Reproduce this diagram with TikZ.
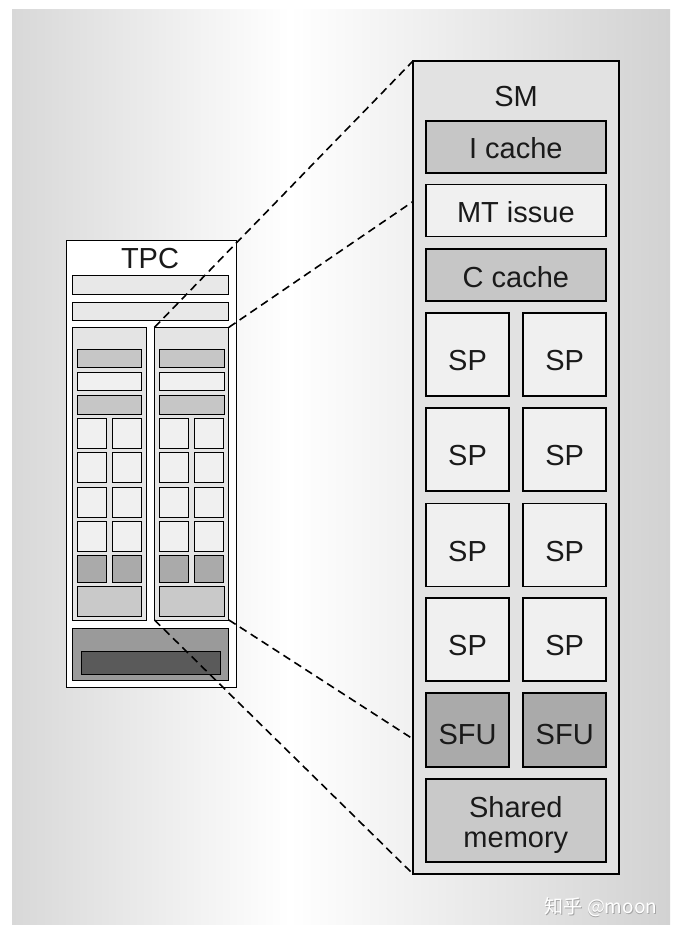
\documentclass[tikz,border=0pt]{standalone}
\usepackage{fontspec}
\setmainfont{Liberation Sans}
\newfontfamily\cjk{Noto Sans CJK SC}
\definecolor{bgL}{HTML}{D8D8D8}
\definecolor{bgR}{HTML}{D2D2D2}
\definecolor{smfill}{HTML}{E2E2E2}
\definecolor{cachec}{HTML}{C6C6C6}
\definecolor{spc}{HTML}{F0F0F0}
\definecolor{sfuc}{HTML}{AAAAAA}
\definecolor{shc}{HTML}{C9C9C9}
\definecolor{blockc}{HTML}{9A9A9A}
\definecolor{innerc}{HTML}{5A5A5A}
\definecolor{colcol}{HTML}{E4E4E4}
\definecolor{barc}{HTML}{E8E8E8}
\definecolor{txt}{HTML}{1A1A1A}
\begin{document}
\begin{tikzpicture}[x=1pt,y=-1pt,
  box/.style={draw=black, inner sep=0pt, outer sep=0pt, anchor=center, text=txt},
  bigbox/.style={box, line width=1.8pt, font=\fontsize{29}{30}\selectfont, text depth=0pt},
  tbox/.style={box, line width=0.9pt},
  conn/.style={dash pattern=on 8pt off 5pt, line width=1.6pt, line cap=butt},
  title/.style={font=\fontsize{29}{30}\selectfont, text=txt, inner sep=0pt}
]
\useasboundingbox (0,0) rectangle (680,935);
\fill[white] (0,0) rectangle (680,935);
\shade[left color=bgL, right color=white] (12,9) rectangle (290,924);
\shade[left color=white, right color=bgR] (289.5,9) rectangle (670,924);

% ---------- TPC ----------
\node[tbox, fill=white, minimum width=170pt, minimum height=447pt] (tpc) at (151,463.5) {};
\node[title] (tpclabel) at (150,259) {TPC};
\node[tbox, fill=barc, minimum width=156pt, minimum height=19pt] (tbar1) at (150.3,284.5) {};
\node[tbox, fill=barc, minimum width=156pt, minimum height=18pt] (tbar2) at (150.3,311.3) {};
\foreach \cx/\nm in {109.5/L,191.7/R}{
  \node[tbox, fill=colcol, minimum width=74.4pt, minimum height=292.7pt] (col\nm) at (\cx,473.65) {};
  \node[tbox, fill=cachec, minimum width=64.5pt, minimum height=18.3pt] (ic\nm) at (\cx,358.2) {};
  \node[tbox, fill=spc, minimum width=64.5pt, minimum height=18pt] (mt\nm) at (\cx,381.3) {};
  \node[tbox, fill=cachec, minimum width=64.5pt, minimum height=18.7pt] (cc\nm) at (\cx,404.7) {};
  \foreach \yy [count=\r] in {433.3,467.3,502,536.3}{
    \node[tbox, fill=spc, minimum width=29.4pt, minimum height=30pt] (sp\nm\r a) at (\cx-17.5,\yy) {};
    \node[tbox, fill=spc, minimum width=29.4pt, minimum height=30pt] (sp\nm\r b) at (\cx+17.5,\yy) {};
  }
  \node[tbox, fill=sfuc, minimum width=29.4pt, minimum height=26.6pt] (sfu\nm a) at (\cx-17.5,569) {};
  \node[tbox, fill=sfuc, minimum width=29.4pt, minimum height=26.6pt] (sfu\nm b) at (\cx+17.5,569) {};
  \node[tbox, fill=shc, minimum width=64.5pt, minimum height=30pt] (sh\nm) at (\cx,601.3) {};
}
\node[tbox, fill=blockc, minimum width=156.4pt, minimum height=51.7pt] (block) at (150.5,654.15) {};
\node[tbox, fill=innerc, minimum width=139.7pt, minimum height=23.3pt] (blockin) at (150.85,662.65) {};

% ---------- SM ----------
\node[box, line width=1.8pt, fill=smfill, minimum width=206pt, minimum height=813pt] (sm) at (516,467.5) {};
\node[title] (smlabel) at (516,96.5) {SM};
\node[bigbox, text height=23.6pt, fill=cachec, minimum width=180.3pt, minimum height=52pt] (icache) at (515.85,146.7) {I cache};
\node[bigbox, text height=23.8pt, fill=spc, minimum width=180.3pt, minimum height=52pt] (mtissue) at (515.85,210.5) {MT issue};
\node[bigbox, text height=24.8pt, fill=cachec, minimum width=180.3pt, minimum height=52pt] (ccache) at (515.85,275) {C cache};
\foreach \yy [count=\r] in {354.7,449.7,545,639.7}{
  \node[bigbox, text height=32pt, fill=spc, minimum width=83pt, minimum height=83pt] (SP\r a) at (467.5,\yy) {SP};
  \node[bigbox, text height=32pt, fill=spc, minimum width=83pt, minimum height=83pt] (SP\r b) at (564.7,\yy) {SP};
}
\node[bigbox, text height=28.8pt, fill=sfuc, minimum width=83pt, minimum height=74pt] (SFUa) at (467.5,730.3) {SFU};
\node[bigbox, text height=28.8pt, fill=sfuc, minimum width=83pt, minimum height=74pt] (SFUb) at (564.7,730.3) {SFU};
\node[bigbox, fill=shc, minimum width=180.3pt, minimum height=83pt] (shared) at (515.85,820.8) {};
\node[align=center, inner sep=0pt, text=txt, font=\fontsize{29}{30}\selectfont] (sharedtext) at (515.85,825) {Shared\\memory};

% ---------- connectors ----------
\coordinate (smA) at (413,201.5);
\coordinate (smB) at (413,739);
\draw[conn] (colR.north west) -- (sm.north west);
\draw[conn] (colR.north east) -- (smA);
\draw[conn] (colR.south west) -- (sm.south west);
\draw[conn] (colR.south east) -- (smB);

% ---------- watermark ----------
\node[font=\cjk\fontsize{19}{20}\selectfont, text=black!35, inner sep=0pt] (wmshadow) at (601.8,907.8) {知乎 @moon};
\node[font=\cjk\fontsize{19}{20}\selectfont, text=white, inner sep=0pt] (wm) at (601,907) {知乎 @moon};
\end{tikzpicture}
\end{document}
